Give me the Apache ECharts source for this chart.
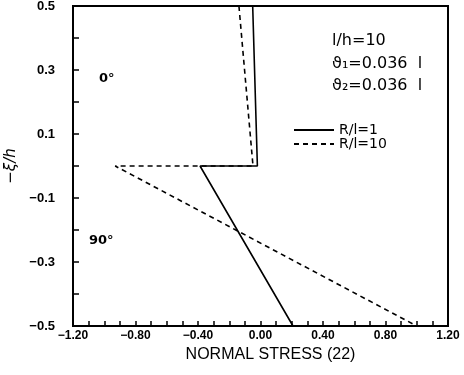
<!DOCTYPE html>
<html>
<head>
<meta charset="utf-8">
<script src="https://cdn.jsdelivr.net/npm/echarts@6/dist/echarts.min.js"></script>
<style>
  html, body { margin: 0; padding: 0; background: #fff; }
  #chart { width: 464px; height: 375px; }
</style>
</head>
<body>
<div id="chart"></div>
<script>
// R/l = 1 (solid)
var solidStress = [-0.05, -0.02, -0.387, 0.208]
var solidDepth = [0.5, 0.0, 0.0, -0.5]
// R/l = 10 (dashed)
var dashStress = [-0.138, -0.048, -0.93, 1.0]
var dashDepth = [0.5, 0.0, 0.0, -0.5]

var seriesNames = ['R/l=1', 'R/l=10']
var notes = ['l/h=10', 'ϑ₁=0.036  l', 'ϑ₂=0.036  l']

function pairs(xs, ys) {
    return xs.map(function (x, i) { return [x, ys[i]] })
}

var labelFont = { fontFamily: 'Liberation Sans', fontWeight: 'bold', color: '#000' }

var chart = echarts.init(document.getElementById('chart'))
chart.setOption({
    animation: false,
    backgroundColor: '#fff',
    grid: {
        left: 73, top: 6, right: 16, bottom: 49,
        outerBoundsMode: 'none', // keep the plot box where it is
        show: true, borderColor: '#000', borderWidth: 2
    },
    legend: {
        left: 288, top: 118, orient: 'vertical',
        itemGap: 0, itemWidth: 40, itemHeight: 12,
        data: seriesNames,
        itemStyle: { opacity: 0 }, // no symbol dot, line only
        textStyle: { fontFamily: 'DejaVu Sans', fontSize: 14, color: '#000' }
    },
    xAxis: {
        type: 'value',
        min: -1.2, max: 1.2, interval: 0.1,
        name: 'NORMAL STRESS (22)',
        nameLocation: 'middle', nameGap: 16,
        nameTextStyle: { fontFamily: 'Liberation Sans', fontSize: 16, color: '#000', padding: [0, 0, 0, 20] },
        axisLine: { onZero: false, lineStyle: { color: '#000', width: 2 } },
        axisTick: { inside: true, length: 5, lineStyle: { color: '#000', width: 1.5 } },
        axisLabel: Object.assign({
            margin: 4, fontSize: 12,
            formatter: function (v) {
                return Math.round(v * 10) % 4 === 0 ? v.toFixed(2).replace('-', '−') : ''
            }
        }, labelFont),
        splitLine: { show: false }
    },
    yAxis: {
        type: 'value',
        min: -0.5, max: 0.5, interval: 0.1,
        name: '−ξ/h',
        nameLocation: 'middle', nameRotate: 90, nameGap: 50,
        nameTextStyle: { fontFamily: 'DejaVu Sans', fontStyle: 'italic', fontSize: 15, color: '#000' },
        axisLine: { onZero: false, lineStyle: { color: '#000', width: 2 } },
        axisTick: { inside: true, length: 6, lineStyle: { color: '#000', width: 1.5 } },
        axisLabel: Object.assign({
            margin: 18, fontSize: 13,
            formatter: function (v) {
                return Math.abs(Math.round(v * 10)) % 2 === 1 ? v.toFixed(1).replace('-', '−') : ''
            }
        }, labelFont),
        splitLine: { show: false }
    },
    graphic: [
        { type: 'text', left: 99, top: 72, style: { text: '0°', font: 'bold 13px "DejaVu Sans"', fill: '#000' } },
        { type: 'text', left: 89, top: 234, style: { text: '90°', font: 'bold 13px "DejaVu Sans"', fill: '#000' } },
        { type: 'text', left: 332, top: 33, style: { text: notes[0], font: '16px "DejaVu Sans"', fill: '#000' } },
        { type: 'text', left: 332, top: 56, style: { text: notes[1], font: '16px "DejaVu Sans"', fill: '#000' } },
        { type: 'text', left: 332, top: 78, style: { text: notes[2], font: '16px "DejaVu Sans"', fill: '#000' } }
    ],
    series: [
        {
            name: seriesNames[0],
            type: 'line',
            data: pairs(solidStress, solidDepth),
            symbol: 'none',
            lineStyle: { color: '#000', width: 1.6, type: 'solid' },
            itemStyle: { color: '#000' }
        },
        {
            name: seriesNames[1],
            type: 'line',
            data: pairs(dashStress, dashDepth),
            symbol: 'none',
            lineStyle: { color: '#000', width: 1.6, type: [5, 4] },
            itemStyle: { color: '#000' }
        }
    ]
})
</script>
</body>
</html>
